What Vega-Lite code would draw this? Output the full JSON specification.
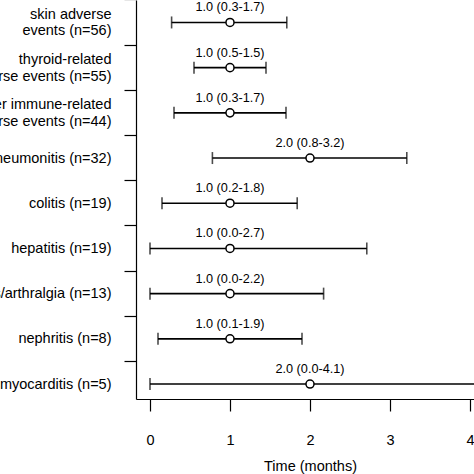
{
  "$schema": "https://vega.github.io/schema/vega-lite/v6.json",
  "width": 338,
  "height": 399,
  "autosize": {"type": "none"},
  "padding": {"left": 136, "top": 0, "right": 0, "bottom": 75},
  "background": "white",
  "view": {"stroke": null},
  "config": {"font": "Liberation Sans"},
  "data": {
    "values": [
      {"label": "skin adverse|events (n=56)", "est": 1.0, "lo": 0.27, "hi": 1.71, "txt": "1.0 (0.3-1.7)"},
      {"label": "thyroid-related|adverse events (n=55)", "est": 1.0, "lo": 0.55, "hi": 1.45, "txt": "1.0 (0.5-1.5)"},
      {"label": "other immune-related|adverse events (n=44)", "est": 1.0, "lo": 0.3, "hi": 1.7, "txt": "1.0 (0.3-1.7)"},
      {"label": "pneumonitis (n=32)", "est": 2.0, "lo": 0.78, "hi": 3.21, "txt": "2.0 (0.8-3.2)"},
      {"label": "colitis (n=19)", "est": 1.0, "lo": 0.15, "hi": 1.84, "txt": "1.0 (0.2-1.8)"},
      {"label": "hepatitis (n=19)", "est": 1.0, "lo": 0.0, "hi": 2.71, "txt": "1.0 (0.0-2.7)"},
      {"label": "arthritis/arthralgia (n=13)", "est": 1.0, "lo": 0.0, "hi": 2.17, "txt": "1.0 (0.0-2.2)"},
      {"label": "nephritis (n=8)", "est": 1.0, "lo": 0.1, "hi": 1.9, "txt": "1.0 (0.1-1.9)"},
      {"label": "myocarditis (n=5)", "est": 2.0, "lo": 0.0, "hi": 4.1, "txt": "2.0 (0.0-4.1)"}
    ]
  },
  "encoding": {
    "y": {
      "field": "label",
      "type": "ordinal",
      "sort": null,
      "scale": {"type": "point", "padding": 0.414, "align": 0.6},
      "axis": {
        "title": null,
        "labelExpr": "split(datum.label, '|')",
        "labelLineHeight": 16.5,
        "labelFontSize": 14.5,
        "labelColor": "#000",
        "labelPadding": 13,
        "labelBaseline": "middle",
        "labelAlign": "right",
        "labelOverlap": false,
        "labelBound": false,
        "tickSize": 12,
        "tickColor": "#000",
        "tickWidth": 1.2,
        "tickOffset": -23,
        "labelOffset": {"condition": {"test": "indexof(datum.value, '|') >= 0", "value": 15}, "value": 23},
        "domainColor": "#000",
        "domainWidth": 1.2,
        "grid": false
      }
    }
  },
  "layer": [
    {
      "mark": {"type": "rule", "color": "#000", "strokeWidth": 1.6, "clip": true},
      "encoding": {
        "x": {
          "field": "lo",
          "type": "quantitative",
          "scale": {"domain": [-0.175, 4.05], "nice": false, "zero": false},
          "axis": {
            "title": "Time (months)",
            "values": [0, 1, 2, 3, 4],
            "format": "d",
            "labelFlush": false,
            "labelFontSize": 14.5,
            "labelColor": "#000",
            "labelPadding": 22,
            "tickSize": 12,
            "tickColor": "#000",
            "tickWidth": 1.2,
            "domainColor": "#000",
            "domainWidth": 1.2,
            "grid": false,
            "titleFontSize": 14.5,
            "titleFontWeight": "normal",
            "titleColor": "#000",
            "titleX": 174,
            "titleY": 71,
            "titleBaseline": "alphabetic"
          }
        },
        "x2": {"field": "hi"}
      }
    },
    {
      "mark": {"type": "tick", "orient": "vertical", "color": "#000", "thickness": 1.6, "size": 12, "clip": true},
      "encoding": {"x": {"field": "lo", "type": "quantitative"}}
    },
    {
      "mark": {"type": "tick", "orient": "vertical", "color": "#000", "thickness": 1.6, "size": 12, "clip": true},
      "encoding": {"x": {"field": "hi", "type": "quantitative"}}
    },
    {
      "mark": {"type": "point", "shape": "circle", "filled": true, "fill": "white", "stroke": "#000", "strokeWidth": 1.5, "size": 65, "opacity": 1},
      "encoding": {"x": {"field": "est", "type": "quantitative"}}
    },
    {
      "mark": {"type": "text", "fontSize": 12.7, "color": "#000", "dy": -15, "baseline": "middle", "align": "center"},
      "encoding": {"x": {"field": "est", "type": "quantitative"}, "text": {"field": "txt"}}
    }
  ]
}
